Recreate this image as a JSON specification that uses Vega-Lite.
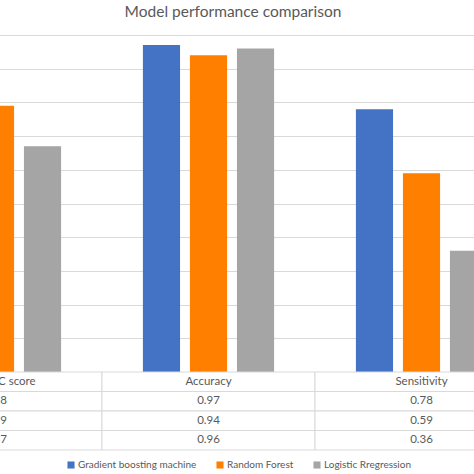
{
  "$schema": "https://vega.github.io/schema/vega-lite/v6.json",
  "width": 474,
  "height": 439,
  "padding": {"top": 35, "left": 0, "right": 0, "bottom": 0},
  "autosize": {"type": "none"},
  "background": "white",
  "config": {"view": {"stroke": null}, "font": "Lato"},
  "title": {"text": "Model performance comparison", "anchor": "middle", "offset": 15, "dx": -4, "fontSize": 15.5, "fontWeight": "normal", "color": "#595959", "font": "Lato"},
  "data": {"values": [
    {"category": "ROC AUC score", "model": "Gradient boosting machine", "value": 0.88},
    {"category": "ROC AUC score", "model": "Random Forest", "value": 0.79},
    {"category": "ROC AUC score", "model": "Logistic Rregression", "value": 0.67},
    {"category": "Accuracy", "model": "Gradient boosting machine", "value": 0.97},
    {"category": "Accuracy", "model": "Random Forest", "value": 0.94},
    {"category": "Accuracy", "model": "Logistic Rregression", "value": 0.96},
    {"category": "Sensitivity", "model": "Gradient boosting machine", "value": 0.78},
    {"category": "Sensitivity", "model": "Random Forest", "value": 0.59},
    {"category": "Sensitivity", "model": "Logistic Rregression", "value": 0.36}
  ]},
  "resolve": {"scale": {"y": "independent"}},
  "layer": [
    {
      "mark": {"type": "bar", "clip": true},
      "encoding": {
        "x": {"field": "category", "type": "nominal", "axis": null,
              "scale": {"type": "band", "domain": ["ROC AUC score", "Accuracy", "Sensitivity"], "range": [-111, 528], "paddingInner": 0, "paddingOuter": 0}},
        "xOffset": {"field": "model", "type": "nominal",
                    "scale": {"domain": ["Gradient boosting machine", "Random Forest", "Logistic Rregression"], "paddingInner": 0.21, "paddingOuter": 0.87}},
        "y": {"field": "value", "type": "quantitative",
              "scale": {"domain": [0, 1], "range": [337, 0], "nice": false},
              "axis": {"grid": true, "gridColor": "#d9d9d9", "gridWidth": 1, "labels": false, "ticks": false, "domain": false, "title": null, "tickCount": 10}},
        "color": {"field": "model", "type": "nominal",
                  "scale": {"domain": ["Gradient boosting machine", "Random Forest", "Logistic Rregression"], "range": ["#4472C4", "#FF7F00", "#A5A5A5"]},
                  "legend": {"orient": "none", "legendX": 66, "legendY": 425, "direction": "horizontal", "title": null,
                             "symbolType": "square", "symbolSize": 50, "symbolStrokeWidth": 0, "labelFont": "Lato", "labelFontSize": 10,
                             "labelColor": "#595959", "columnPadding": 18, "labelOffset": 2}}
      }
    },
    {
      "layer": [
        {
          "mark": {"type": "rect", "fill": "white", "stroke": "#d9d9d9", "strokeWidth": 1, "clip": true},
          "encoding": {
            "x": {"field": "category", "type": "nominal", "axis": null},
            "y": {"field": "model", "type": "nominal", "axis": null,
                  "scale": {"type": "band", "domain": ["Header", "Gradient boosting machine", "Random Forest", "Logistic Rregression"], "range": [337, 415], "paddingInner": 0, "paddingOuter": 0}}
          }
        },
        {
          "transform": [{"aggregate": [], "groupby": ["category"]}],
          "mark": {"type": "rect", "fill": "white", "stroke": "#d9d9d9", "strokeWidth": 1, "clip": true},
          "encoding": {
            "x": {"field": "category", "type": "nominal", "axis": null},
            "y": {"datum": "Header", "type": "nominal", "axis": null}
          }
        },
        {
          "transform": [{"aggregate": [], "groupby": ["category"]}],
          "mark": {"type": "text", "font": "Lato", "fontSize": 11.5, "color": "#595959", "clip": true},
          "encoding": {
            "x": {"field": "category", "type": "nominal", "axis": null},
            "y": {"datum": "Header", "type": "nominal", "axis": null},
            "text": {"field": "category"}
          }
        },
        {
          "mark": {"type": "text", "font": "Lato", "fontSize": 11.5, "color": "#595959", "clip": true},
          "encoding": {
            "x": {"field": "category", "type": "nominal", "axis": null},
            "y": {"field": "model", "type": "nominal", "axis": null},
            "text": {"field": "value", "format": ".2f"}
          }
        }
      ]
    }
  ]
}
